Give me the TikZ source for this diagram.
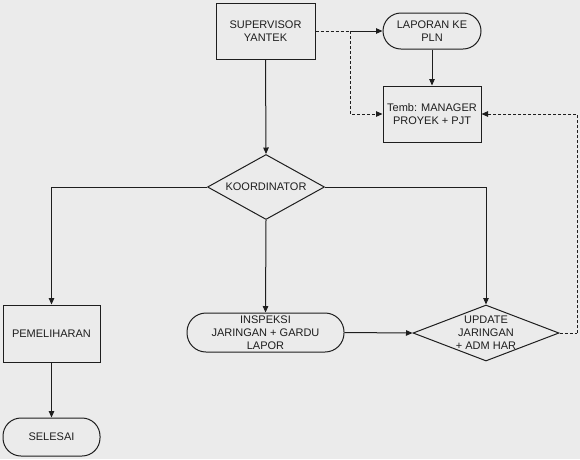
\documentclass[tikz,border=0pt]{standalone}
\usepackage{fontspec}
\setmainfont{Liberation Sans}
\usepackage{tikz}
\usetikzlibrary{arrows.meta}
\usetikzlibrary{shapes}
\definecolor{garis}{RGB}{30,30,30}
\definecolor{latar}{RGB}{235,235,235}

\begin{document}
\begin{tikzpicture}[x=1pt, y=-1pt,
    every node/.style={font=\fontsize{11}{13}\selectfont, text=garis, align=center},
    kotak/.style={draw=garis, line width=1pt, rectangle, inner sep=0pt},
    bulat/.style={draw=garis, line width=1pt, rectangle, rounded corners=18pt, inner sep=0pt},
    keputusan/.style={draw=garis, line width=1pt, diamond, inner sep=-2pt},
    panah/.style={draw=garis, line width=1pt, -{Triangle[length=6.5pt, width=5.5pt]}},
    putus/.style={draw=garis, line width=1pt, dash pattern=on 3pt off 2pt}
  ]
        \fill[latar] (0, 0) rectangle (580, 459);
        \useasboundingbox (0, 0) rectangle (580, 459);

        \node[kotak, minimum width=99pt, minimum height=56pt] (supervisor) at (265.5, 31) {SUPERVISOR\\YANTEK};
        \node[bulat, minimum width=98pt, minimum height=36pt] (laporan) at (432, 31) {LAPORAN KE\\PLN};
        \node[kotak, minimum width=98pt, minimum height=56pt] (temb) at (432, 114) {Temb: MANAGER\\PROYEK + PJT};
        \node[keputusan, shape aspect=1.8, minimum width=117pt, minimum height=65pt] (koordinator) at (266, 187) {KOORDINATOR};
        \node[kotak, minimum width=97pt, minimum height=57pt] (pemeliharan) at (51.5, 333.5) {PEMELIHARAN};
        \node[bulat, rounded corners=19pt, minimum width=157pt, minimum height=39pt] (inspeksi) at (265.5, 332.5) {INSPEKSI\\JARINGAN + GARDU\\LAPOR};
        \node[keputusan, shape aspect=2.6, minimum width=146pt, minimum height=56pt] (update) at (486, 333) {UPDATE\\JARINGAN\\+ ADM HAR};
        \node[bulat, minimum width=97pt, minimum height=38pt] (selesai) at (51.5, 437) {SELESAI};

        \coordinate (cabang) at (350, 31);
        \coordinate (balik) at (577, 333);

        \draw[putus] (supervisor.east) -- (cabang);
        \draw[panah] (cabang) -- (laporan.west);
        \draw[putus, panah] (cabang) |- (temb.west);
        \draw[panah] (laporan.south) -- (temb.north);
        \draw[putus] (update.east) -- (balik);
        \draw[putus, panah] (balik) |- (temb.east);

        \draw[panah] (supervisor.south) -- (koordinator.north);
        \draw[panah] (koordinator.west) -| (pemeliharan.north);
        \draw[panah] (koordinator.east) -| (update.north);
        \draw[panah] (koordinator.south) -- (inspeksi.north);
        \draw[panah] (inspeksi.east) -- (update.west);
        \draw[panah] (pemeliharan.south) -- (selesai.north);
      \end{tikzpicture}
\end{document}
